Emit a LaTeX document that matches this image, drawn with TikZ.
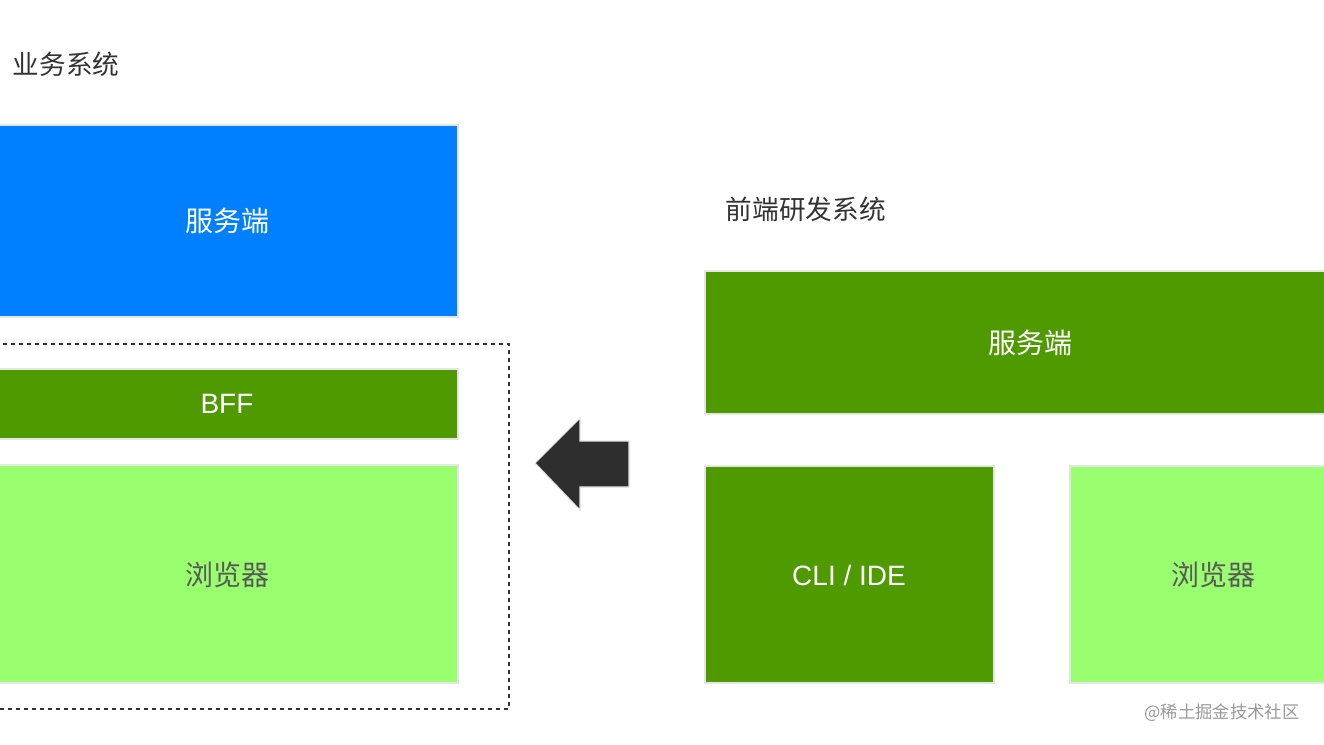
\documentclass[tikz,border=0pt]{standalone}
\usepackage{fontspec}
\setmainfont{Liberation Sans}
\newfontfamily\cjk{Noto Sans CJK SC}
\begin{document}
\begin{tikzpicture}[x=0.75pt,y=-0.75pt,
  box/.style={draw=black!10,line width=0.8pt,inner sep=0pt},
  lbl/.style={font=\cjk\fontsize{21}{24}\selectfont},
  ttl/.style={font=\cjk\fontsize{20}{24}\selectfont,text=black!80,anchor=west}]
\useasboundingbox (0,0) rectangle (1324,745);
\definecolor{blueA}{HTML}{0080FF}
\definecolor{greenA}{HTML}{4E9A00}
\definecolor{greenB}{HTML}{99FF6E}
\node[ttl] (t1) at (8,64) {业务系统};
\node[ttl] (t2) at (721,209) {前端研发系统};
\draw[dashed,line width=1pt,black!80] (-5,344) -- (509,344) -- (509,709) -- (-5,709);
\fill[box,fill=blueA] (-5,125) rectangle (458,317);
\node[lbl,text=white] (s1) at (227,221) {服务端};
\fill[box,fill=greenA] (-5,369) rectangle (458,439);
\node[lbl,text=white,font=\fontsize{21}{24}\selectfont] (bff) at (227,404) {BFF};
\fill[box,fill=greenB] (-5,465) rectangle (458,683);
\node[lbl,text=black!65] (b1) at (227,575) {浏览器};
\filldraw[fill=black!82,draw=black!10,line width=0.8pt] (535,463) -- (580,418) -- (580,441) -- (629,441) -- (629,487) -- (580,487) -- (580,510) -- cycle;
\fill[box,fill=greenA] (705,271) rectangle (1330,414);
\node[lbl,text=white] (s2) at (1030,343) {服务端};
\fill[box,fill=greenA] (705,466) rectangle (994,683);
\node[lbl,text=white,font=\fontsize{21}{24}\selectfont] (cli) at (849,575) {CLI / IDE};
\fill[box,fill=greenB] (1070,466) rectangle (1330,683);
\node[lbl,text=black!65] (b2) at (1213,575) {浏览器};
\node[font=\cjk\fontsize{13}{15}\selectfont,text=black!40] (wm) at (1222,713) {@稀土掘金技术社区};
\end{tikzpicture}
\end{document}
